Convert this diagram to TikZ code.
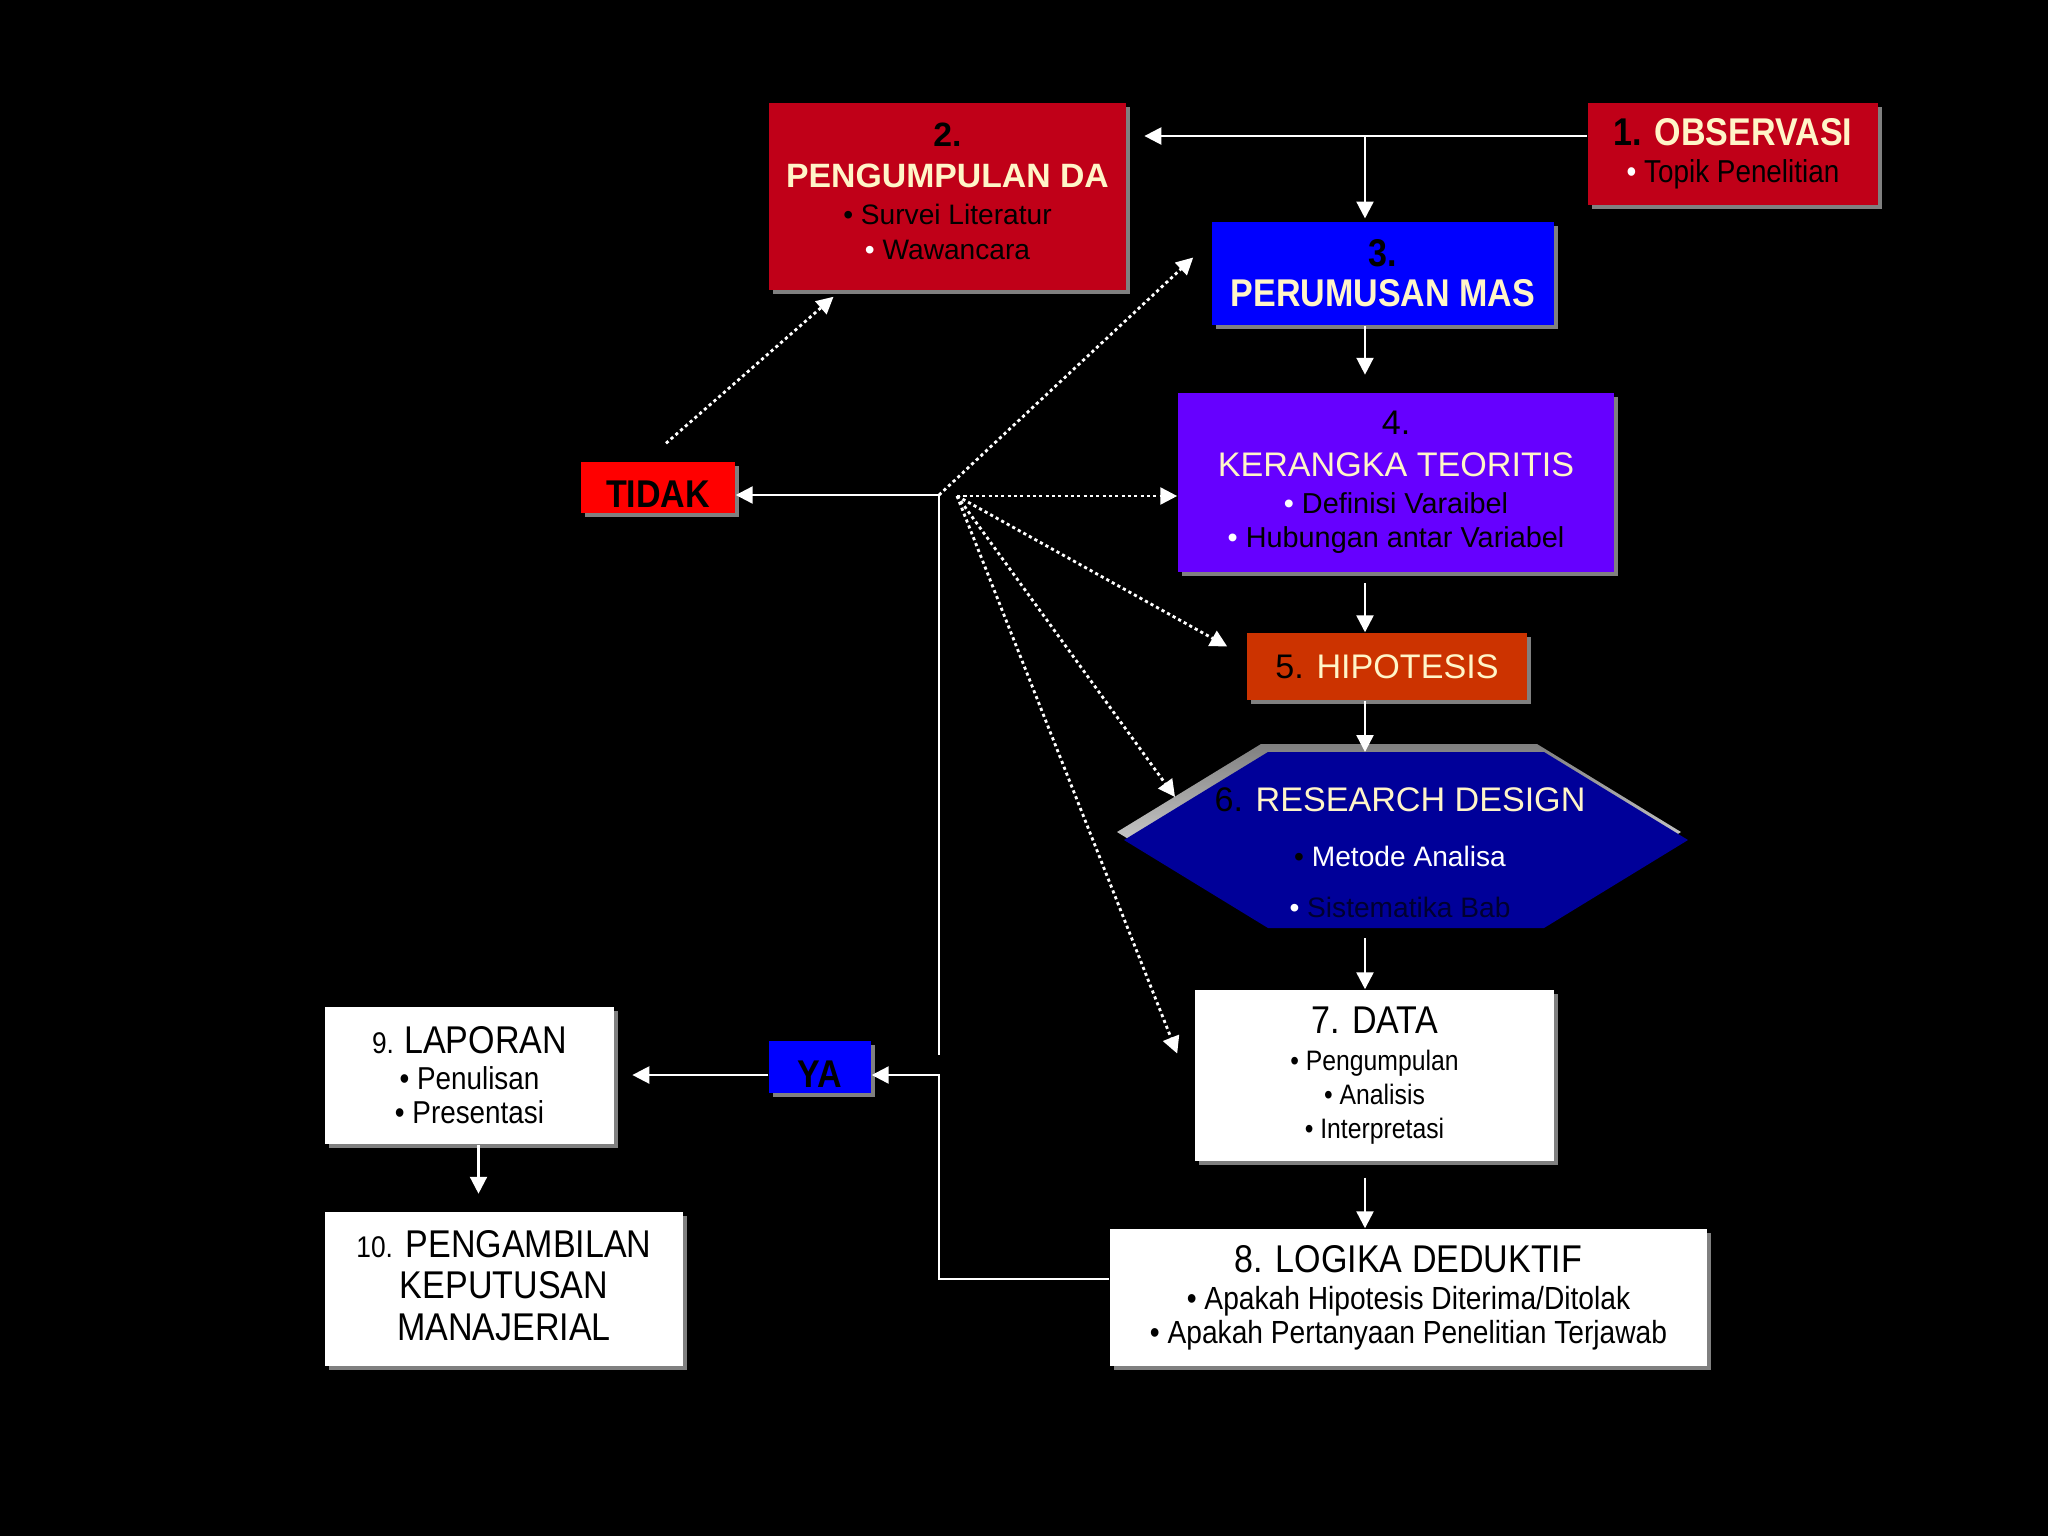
\documentclass[tikz,border=0pt]{standalone}
\usepackage{fontspec}
\setmainfont{Liberation Sans}
\usepackage{graphicx}
\usetikzlibrary{arrows.meta,positioning,shadows}
\definecolor{redbox}{HTML}{C00018}
\definecolor{bluebox}{HTML}{0000FF}
\definecolor{purplebox}{HTML}{6600FF}
\definecolor{rust}{HTML}{CC3300}
\definecolor{navybox}{HTML}{000099}
\definecolor{hexink}{HTML}{000030}
\definecolor{cream}{HTML}{FFF5C8}
\definecolor{shade}{HTML}{808080}
\definecolor{tidakred}{HTML}{FF0000}
\newcommand{\nrw}[1]{\scalebox{0.88}[1]{#1}}
\newcommand{\fs}[2]{\fontsize{#1}{#2}\selectfont}
\tikzset{
  stepbox/.style={inner sep=0pt,align=center,font=\fs{8}{9.7},
    drop shadow={fill=shade,opacity=1,shadow xshift=1.15pt,shadow yshift=-1.15pt}},
  tagbox/.style={stepbox,font=\fs{11}{12}\bfseries,text height=11.6pt,text depth=0pt},
  flow/.style={-{Triangle[length=4.8pt,width=4.8pt]},line width=0.7pt,draw=white},
  link/.style={line width=0.7pt,draw=white},
  hint/.style={-{Triangle[length=4.8pt,width=4.8pt]},line width=0.8pt,draw=white,
    dash pattern=on 0.9pt off 0.9pt}
}

\begin{document}
\begin{tikzpicture}[x=0.01cm,y=-0.01cm]
  \fill[black] (0,0) rectangle (2048,1536);
  % boxes
  \node[stepbox,fill=redbox,minimum width=3.57cm,minimum height=1.87cm,text depth=3pt] (kumpul) at (947.5,196.5)
    {{\fs{9.6}{9.7}\bfseries 2.}\\[1.7pt]
     {\fs{9.6}{9.7}\bfseries\color{cream}PENGUMPULAN DA}\\[1.1pt]
     \textbullet\ Survei Literatur\\
     {\color{white}\textbullet}\ Wawancara};
  \node[stepbox,fill=redbox,minimum width=2.9cm,minimum height=1.02cm,font=\fs{9}{10.5}] (obs) at (1733,154)
    {\nrw{\fs{11}{10.5}\bfseries 1. \textcolor{cream}{OBSERVASI}}\\
     \nrw{\textcolor{white}{\textbullet} Topik Penelitian}};
  \node[stepbox,fill=bluebox,minimum width=3.42cm,minimum height=1.03cm,font=\fs{11}{11.4}\bfseries] (rumus) at (1383,273.5)
    {\nrw{3.}\\ \nrw{\textcolor{cream}{PERUMUSAN MAS}}};
  \node[stepbox,fill=purplebox,minimum width=4.36cm,minimum height=1.79cm,font=\fs{8.2}{9.7}] (teori) at (1396,482.5)
    {{\fs{9.7}{9.7}4.}\\[2.3pt]
     {\fs{9.7}{9.7}\color{cream}KERANGKA TEORITIS}\\[0.8pt]
     {\color{white}\textbullet}\ Definisi Varaibel\\
     {\color{white}\textbullet}\ Hubungan antar Variabel};
  \node[stepbox,fill=rust,minimum width=2.8cm,minimum height=0.67cm,font=\fs{9.7}{11}] (hipo) at (1387,666.5)
    {5. \textcolor{cream}{HIPOTESIS}};
  \foreach \dx/\dy/\col in {-7/-8/shade,0/0/navybox}
    \fill[\col,shift={(\dx,\dy)}] (1124,840) -- (1268,752) -- (1544,752) -- (1688,840) -- (1544,928) -- (1268,928) -- cycle;
  \node[align=center,inner sep=0pt,font=\fs{8}{14.5}] (design) at (1400,853)
    {{\fs{9.7}{14.5}6. \textcolor{cream}{RESEARCH DESIGN}}\\[1.1pt]
     \textbullet\ \textcolor{white}{Metode Analisa}\\
     {\color{white}\textbullet}\ \textcolor{hexink}{Sistematika Bab}};
  \node[stepbox,fill=white,minimum width=3.59cm,minimum height=1.71cm] (data) at (1374.5,1075.5)
    {\nrw{\fs{11}{9.7}7. DATA}\\[0.8pt]
     \nrw{\textbullet\ Pengumpulan}\\ \nrw{\textbullet\ Analisis}\\ \nrw{\textbullet\ Interpretasi}};
  \node[stepbox,fill=white,minimum width=5.97cm,minimum height=1.37cm,font=\fs{9.1}{9.7}] (logika) at (1408.5,1297.5)
    {\nrw{\fs{11}{9.7}8. LOGIKA DEDUKTIF}\\[0.8pt]
     \nrw{\textbullet\ Apakah Hipotesis Diterima/Ditolak}\\
     \nrw{\textbullet\ Apakah Pertanyaan Penelitian Terjawab}};
  \node[stepbox,fill=white,minimum width=2.89cm,minimum height=1.37cm,font=\fs{9}{9.7}] (lapor) at (469.5,1075.5)
    {\nrw{{\fs{8.5}{9.7}9.} \fs{11}{9.7}LAPORAN}\\[0.5pt]
     \nrw{\textbullet\ Penulisan}\\ \nrw{\textbullet\ Presentasi}};
  \node[stepbox,fill=white,minimum width=3.58cm,minimum height=1.54cm,font=\fs{11}{11.8},text depth=2.2pt] (putusan) at (504,1289)
    {\nrw{{\fs{8.5}{11.8}10.} PENGAMBILAN}\\ \nrw{KEPUTUSAN}\\ \nrw{MANAJERIAL}};
  \node[tagbox,fill=tidakred,minimum width=1.54cm,minimum height=0.51cm] (tidak) at (658,487.5) {\nrw{TIDAK}};
  \node[tagbox,fill=bluebox,minimum width=1.02cm,minimum height=0.52cm] (ya) at (820,1067) {\nrw{YA}};
  % connectors
  \coordinate (spine) at (1365,0);
  \coordinate (split) at (1365,136);
  \coordinate (hextop) at (1365,752);
  \coordinate (hexbot) at (1365,938);
  \coordinate (hexedge) at (1175,797);
  \coordinate (corner) at (939,495);
  \coordinate (fan) at (957,496);
  \coordinate (loopdown) at (939,1055);
  \coordinate (ybend) at (939,1279);
  \coordinate (yturn) at (939,1075);
  \draw[link] (obs.west |- split) -- (split);
  \draw[flow,shorten >=5pt] (split) -- (kumpul.east |- split);
  \draw[flow,shorten >=0.8pt] (split) -- (rumus.north -| spine);
  \draw[flow,shorten >=5pt] (rumus.south -| spine) -- (teori.north -| spine);
  \draw[flow,shorten <=3pt] (teori.south -| spine) -- (hipo.north -| spine);
  \draw[flow] (hipo.south -| spine) -- (hextop);
  \draw[flow] (hexbot) -- (data.north -| spine);
  \draw[flow,shorten <=4.5pt] (data.south -| spine) -- (logika.north -| spine);
  \draw[flow] (logika.west |- ybend) -- (ybend) -- (yturn) -- (ya.east |- yturn);
  \draw[flow,shorten >=5pt] (ya.west |- yturn) -- (lapor.east |- yturn);
  \draw[flow,shorten >=5pt] ([shift={(9,0)}]lapor.south) -- ([shift={(9,0)}]lapor.south |- putusan.north);
  \draw[link] (corner) -- (loopdown);
  \draw[flow] (corner) -- (tidak.east |- corner);
  \draw[hint] (corner) -- ([shift={(-18,-16)}]rumus.west);
  \draw[hint] (fan) -- (teori.west |- fan);
  \draw[hint] (fan) -- ([shift={(-19,-20)}]hipo.west);
  \draw[hint] (fan) -- (hexedge);
  \draw[hint] (fan) -- ([shift={(-17,-22)}]data.west);
  \draw[hint] ([shift={(8,-18)}]tidak.north) -- ([shift={(-114,6)}]kumpul.south);
\end{tikzpicture}
\end{document}
